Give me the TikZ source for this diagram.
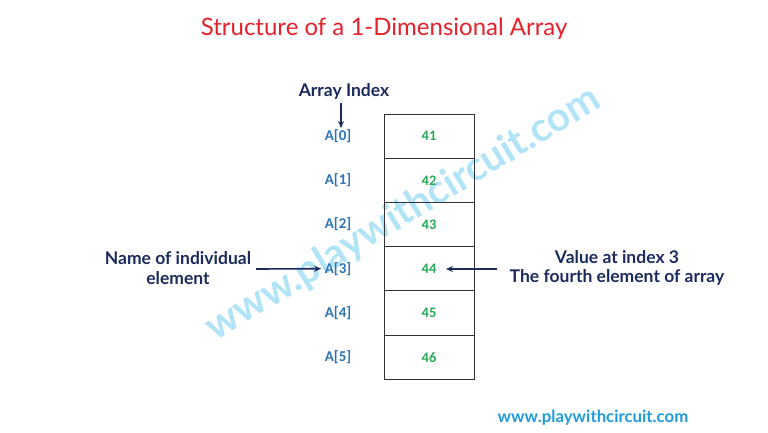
\documentclass[tikz,border=0pt]{standalone}
\usepackage{fontspec}
\setmainfont{Lato}
\newfontfamily\calfont{Carlito}
\usetikzlibrary{arrows.meta}
\definecolor{titlered}{HTML}{E5222B}
\definecolor{navy}{HTML}{1C2B5E}
\definecolor{idxblue}{HTML}{2E75B6}
\definecolor{valgreen}{HTML}{2BA85A}
\definecolor{webblue}{HTML}{1E9BE0}
\definecolor{wmark}{HTML}{B2E4F7}
\tikzset{
  cell/.style={draw=black!80, line width=0.9pt, minimum width=90pt, minimum height=44.2pt, inner sep=0pt, font=\calfont\bfseries\fontsize{14.5}{16}\selectfont, text=valgreen},
  idx/.style={font=\calfont\bfseries\fontsize{15}{17}\selectfont, text=idxblue},
  note/.style={font=\fontsize{17.5}{19.5}\selectfont\bfseries, text=navy, align=center},
  navyarrow/.style={draw=navy, line width=1.6pt, -{Stealth[length=7pt,width=6pt]}},
}
\begin{document}
\begin{tikzpicture}[x=1pt,y=-1pt]
\useasboundingbox (0,0) rectangle (768,432);
\fill[white] (0,0) rectangle (768,432);
% watermark
\node[rotate=31.3, text=wmark, font=\bfseries\fontsize{40}{44}\selectfont] (wm) at (403,214) {www.playwithcircuit.com};
% title
\node[text=titlered, font=\fontsize{24}{28}\selectfont] (title) at (384,29) {Structure of a 1-Dimensional Array};
% cells
\foreach \i/\v in {0/41,1/42,2/43,3/44,4/45,5/46}{
  \node[cell] (c\i) at (429,{136.1+44.2*\i}) {\v};
  \node[idx] (a\i) at (338,{136.1+44.2*\i}) {A[\i]};
}
% array index
\node[note] (ai) at (344,91) {Array Index};
\coordinate (aitop) at (341,103);
\coordinate (aibot) at (341,128);
\draw[navyarrow] (aitop) -- (aibot);
% left note
\node[note] (ln) at (178,268) {Name of individual\\element};
\coordinate (lstart) at (256,269);
\draw[navyarrow] (lstart) -- (a3.west);
% right note
\node[note] (rn) at (617,268) {Value at index 3\\The fourth element of array};
\coordinate (rstart) at (497,269);
\coordinate (rend) at (446,269);
\draw[navyarrow] (rstart) -- (rend);
% footer
\node[text=webblue, font=\bfseries\fontsize{16.8}{19}\selectfont] (web) at (593,418) {www.playwithcircuit.com};
\end{tikzpicture}
\end{document}
